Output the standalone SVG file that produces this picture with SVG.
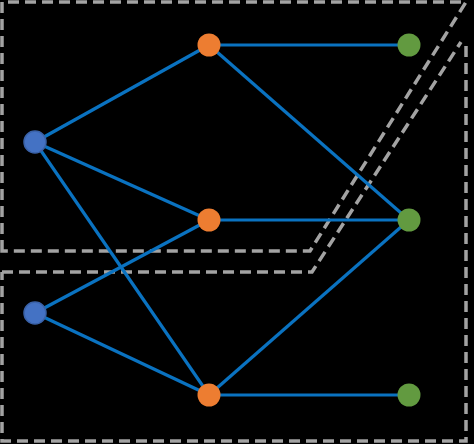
<svg xmlns="http://www.w3.org/2000/svg" width="474" height="444" viewBox="0 0 474 444">
<style>
.box{fill:none;stroke:#a3a3a3;stroke-width:3.5;stroke-dasharray:11 6}
.e{stroke:#0a72c0;stroke-width:3.2;fill:none}
.in{fill:#4472c4;stroke:#3a62a8;stroke-width:1.5}
.hid{fill:#ed7d31}
.out{fill:#629a40}
</style>
<rect width="474" height="444" fill="#000"/>
<g id="groups">
<path class="box" d="M2,251 V2 H466 L310,251 Z"/>
<path class="box" d="M2,272 H312 L461,42 M466,46 V441 H2 V272"/>
</g>
<g id="connectors">
<line class="e" x1="35" y1="142" x2="209" y2="45"/>
<line class="e" x1="35" y1="142" x2="209" y2="220"/>
<line class="e" x1="35" y1="142" x2="209" y2="395"/>
<line class="e" x1="35" y1="313" x2="209" y2="220"/>
<line class="e" x1="35" y1="313" x2="209" y2="395"/>
<line class="e" x1="209" y1="45" x2="409" y2="45"/>
<line class="e" x1="209" y1="45" x2="409" y2="220"/>
<line class="e" x1="209" y1="220" x2="409" y2="220"/>
<line class="e" x1="209" y1="395" x2="409" y2="220"/>
<line class="e" x1="209" y1="395" x2="409" y2="395"/>
</g>
<g id="in1"><circle class="in" cx="35" cy="142" r="11"/></g>
<g id="in2"><circle class="in" cx="35" cy="313" r="11"/></g>
<g id="h1"><circle class="hid" cx="209" cy="45" r="11.5"/></g>
<g id="h2"><circle class="hid" cx="209" cy="220" r="11.5"/></g>
<g id="h3"><circle class="hid" cx="209" cy="395" r="11.5"/></g>
<g id="o1"><circle class="out" cx="409" cy="45" r="11.5"/></g>
<g id="o2"><circle class="out" cx="409" cy="220" r="11.5"/></g>
<g id="o3"><circle class="out" cx="409" cy="395" r="11.5"/></g>
</svg>
